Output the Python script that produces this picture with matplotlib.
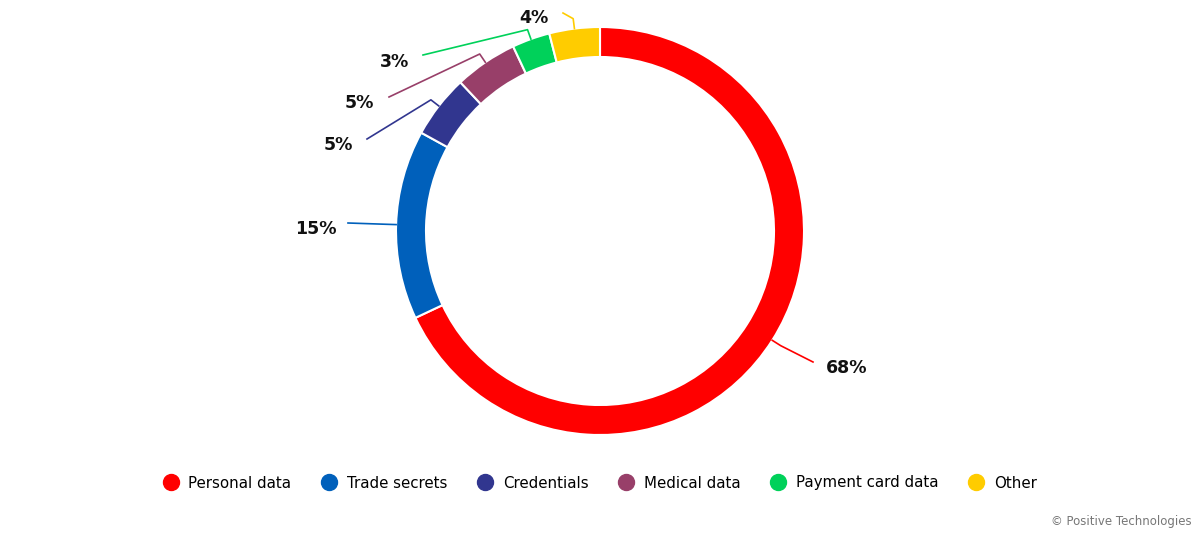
import matplotlib
matplotlib.use("Agg")
import matplotlib.pyplot as plt
from matplotlib.lines import Line2D
import numpy as np

W, H = 1200, 534

categories = ["Personal data", "Trade secrets", "Credentials",
              "Medical data", "Payment card data", "Other"]
values = [68, 15, 5, 5, 3, 4]
labels = ["68%", "15%", "5%", "5%", "3%", "4%"]
colors = ["#ff0000", "#0060bb", "#31368f", "#983f69", "#00d15a", "#ffcc00"]

# layout in pixel coords (y measured from top)
CX, CY, R, RING = 600, 231, 204, 30
label_end = [(813, 362), (348, 223), (367, 139), (389, 97), (423, 55), (563, 13)]
label_pos = [(826, 368, "left"), (337, 229, "right"), (353, 145, "right"),
             (374, 103, "right"), (409, 62, "right"), (548, 18, "right")]


def P(x, y):
    return x, H - y


fig = plt.figure(figsize=(W / 100, H / 100), dpi=100)
ax = fig.add_axes([0, 0, 1, 1])

wedges, _ = ax.pie(values, colors=colors, startangle=90, counterclock=False,
                   radius=R, center=P(CX, CY),
                   wedgeprops=dict(width=RING, edgecolor="white", linewidth=1.5))

# pie resets the limits, so set them afterwards
ax.set_xlim(0, W)
ax.set_ylim(0, H)
ax.set_aspect("equal")
ax.axis("off")

for w, lab, end, (lx, ly, ha) in zip(wedges, labels, label_end, label_pos):
    mid = np.deg2rad((w.theta1 + w.theta2) / 2)
    cx, cy = P(CX, CY)
    x0, y0 = cx + R * np.cos(mid), cy + R * np.sin(mid)
    x1, y1 = cx + (R + 10) * np.cos(mid), cy + (R + 10) * np.sin(mid)
    ex, ey = P(*end)
    ax.plot([x0, x1, ex], [y0, y1, ey], color=w.get_facecolor(), lw=1.2,
            solid_joinstyle="round")
    ax.text(*P(lx, ly), lab, ha=ha, va="center", fontsize=12.5,
            fontweight="bold", color="#111111")

handles = [Line2D([], [], marker="o", linestyle="", markersize=11.5,
                  markerfacecolor=c, markeredgecolor=c) for c in colors]
fig.legend(handles, categories, loc="center", ncol=6, frameon=False,
           bbox_to_anchor=(0.5, (H - 483) / H), fontsize=10.8,
           handlelength=1.0, handletextpad=0.7, columnspacing=2.0)

fig.text(1192 / W, (H - 522) / H, "© Positive Technologies", ha="right",
         va="center", fontsize=8.5, color="#777777")

fig.savefig("out.png", dpi=100)
